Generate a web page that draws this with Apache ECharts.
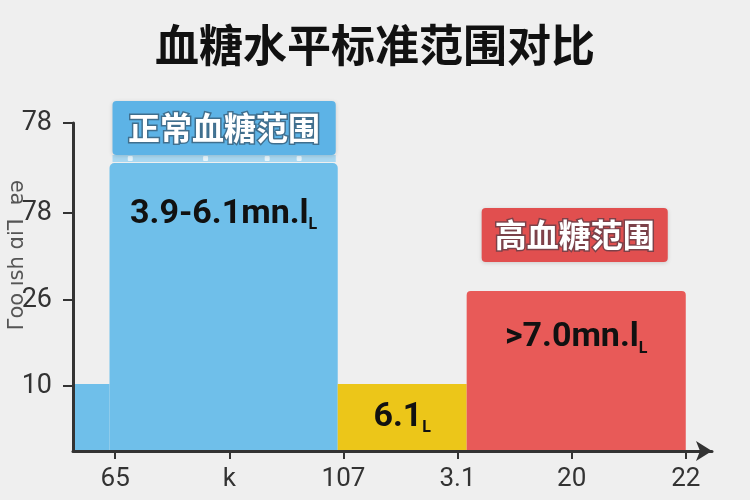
<!DOCTYPE html>
<html><head><meta charset="utf-8">
<script src="https://cdn.jsdelivr.net/npm/echarts@6/dist/echarts.min.js"></script>
<style>html,body{margin:0;padding:0;background:#efefef}#c{width:750px;height:500px}</style>
</head><body><div id="c"></div>
<script>
// ---- data ----
const chartTitle = '血糖水平标准范围对比';
const yAxisName = 'Γoo ısh ɑiꞀ  ɐǝ';
const xTickValues = [0, 1, 2, 3, 4, 5];
const xTickLabels = ['65', 'k', '107', '3.1', '20', '22'];
const yTickValues = [19.8, 46.0, 72.6, 100];
const yTickLabels = ['10', '26', '78', '78'];
const regionStart = [-0.37, -0.05, 1.95, 3.08];
const regionEnd = [-0.05, 1.95, 3.08, 5.0];
const regionTop = [20.4, 87.8, 20.4, 48.8];
const regionValueLabels = ['', '3.9-6.1mn.l', '6.1', '>7.0mn.l'];
const regionValueUnits = ['', 'L', 'L', 'L'];
const regionHeaders = ['', '正常血糖范围', '', '高血糖范围'];

// ---- styles ----
const tickFont = '"Liberation Sans Narrow", "Roboto", sans-serif';
const looks = [
  { color: '#6fbfea', radius: 0 },
  { color: '#6fbfea', radius: [5, 5, 0, 0], labelDy: 51, headerColor: '#5db3e6', headerInset: [3, 2], headerGap: 8, headerH: 54, strip: true },
  { color: '#ecc619', radius: 0, labelDy: 33 },
  { color: '#e85a58', radius: [4, 4, 0, 0], labelDy: 47, headerColor: '#e14f4f', headerInset: [15, 18], headerGap: 29, headerH: 54 }
];

function renderItem(params, api) {
  const i = params.dataIndex;
  const lk = looks[i];
  const p0 = api.coord([api.value(0), api.value(2)]);
  const p1 = api.coord([api.value(1), 0]);
  const x = p0[0], y = p0[1], w = p1[0] - p0[0], h = p1[1] - p0[1];
  const children = [{ type: 'rect', shape: { x: x, y: y, width: w, height: h, r: lk.radius }, style: { fill: lk.color } }];
  if (regionValueLabels[i]) {
    children.push({
      type: 'text',
      style: {
        x: x + w / 2, y: y + lk.labelDy,
        text: '{a|' + regionValueLabels[i] + '}{b|' + regionValueUnits[i] + '}',
        align: 'center', verticalAlign: 'middle',
        rich: {
          a: { fontSize: 34, fontWeight: 'bold', fontFamily: 'Roboto', fill: '#111', lineHeight: 38 },
          b: { fontSize: 16, fontWeight: 'bold', fontFamily: 'Roboto', fill: '#111', lineHeight: 16, verticalAlign: 'bottom' }
        }
      }
    });
  }
  if (lk.strip) {
    children.push({ type: 'rect', shape: { x: x + 3, y: y - 8, width: w - 5, height: 7 }, style: { fill: '#a9d8f1' } });
    [0.08, 0.41, 0.68, 0.82].forEach(function (f) {
      children.push({ type: 'rect', shape: { x: x + w * f, y: y - 7, width: 5, height: 5, r: 1 }, style: { fill: '#e6f4fb' } });
    });
  }
  if (regionHeaders[i]) {
    const hx = x + lk.headerInset[0];
    const hw = w - lk.headerInset[0] - lk.headerInset[1];
    const hy = y - lk.headerGap - lk.headerH;
    children.push({ type: 'rect', shape: { x: hx, y: hy, width: hw, height: lk.headerH, r: 4 }, style: { fill: lk.headerColor, shadowBlur: 4, shadowColor: 'rgba(0,0,0,0.15)', shadowOffsetY: 1 } });
    children.push({
      type: 'text',
      style: {
        x: hx + hw / 2, y: hy + lk.headerH / 2, text: regionHeaders[i],
        align: 'center', verticalAlign: 'middle',
        fontSize: 32, fontWeight: 'bold', fontFamily: 'Noto Sans CJK SC',
        fill: '#ffffff', stroke: 'rgba(40,55,70,0.55)', lineWidth: 3
      }
    });
  }
  return { type: 'group', children: children };
}

const chart = echarts.init(document.getElementById('c'));
chart.setOption({
  backgroundColor: '#efefef',
  animation: false,
  title: {
    text: chartTitle, left: 'center', top: 18,
    textStyle: { fontSize: 44, fontWeight: 'bold', fontFamily: 'Noto Sans CJK SC', color: '#111' }
  },
  graphic: [{
    type: 'text', x: 18, y: 255, rotation: Math.PI / 2, z: 20,
    style: { text: yAxisName, align: 'center', verticalAlign: 'middle', fontSize: 21, fill: '#555', fontFamily: 'DejaVu Sans' }
  }],
  grid: { left: 73, right: 38, top: 123, bottom: 49, outerBoundsMode: 'none' },
  xAxis: {
    type: 'value', min: -0.37, max: 5.23, z: 10,
    splitLine: { show: false },
    axisLine: { show: true, onZero: false, lineStyle: { color: '#333', width: 3 }, symbol: ['none', 'arrow'], symbolSize: [15, 16] },
    axisTick: { show: true, customValues: xTickValues, length: 8, lineStyle: { color: '#333', width: 2 } },
    axisLabel: {
      customValues: xTickValues, margin: 15, fontSize: 26, fontFamily: tickFont, color: '#333',
      formatter: function (v) { const k = xTickValues.indexOf(v); return k >= 0 ? xTickLabels[k] : ''; }
    }
  },
  yAxis: {
    type: 'value', min: 0, max: 100, z: 10,
    splitLine: { show: false },
    axisLine: { show: true, onZero: false, lineStyle: { color: '#333', width: 3 } },
    axisTick: { show: true, customValues: yTickValues, length: 10, lineStyle: { color: '#333', width: 2 } },
    axisLabel: {
      customValues: yTickValues, margin: 21, fontSize: 27, fontFamily: tickFont, color: '#333',
      formatter: function (v) { const k = yTickValues.indexOf(v); return k >= 0 ? yTickLabels[k] : ''; }
    }
  },
  series: [{
    type: 'custom',
    renderItem: renderItem,
    encode: { x: [0, 1], y: 2 },
    data: regionStart.map(function (s, i) { return [s, regionEnd[i], regionTop[i]]; }),
    z: 2
  }]
});
</script>
</body></html>
